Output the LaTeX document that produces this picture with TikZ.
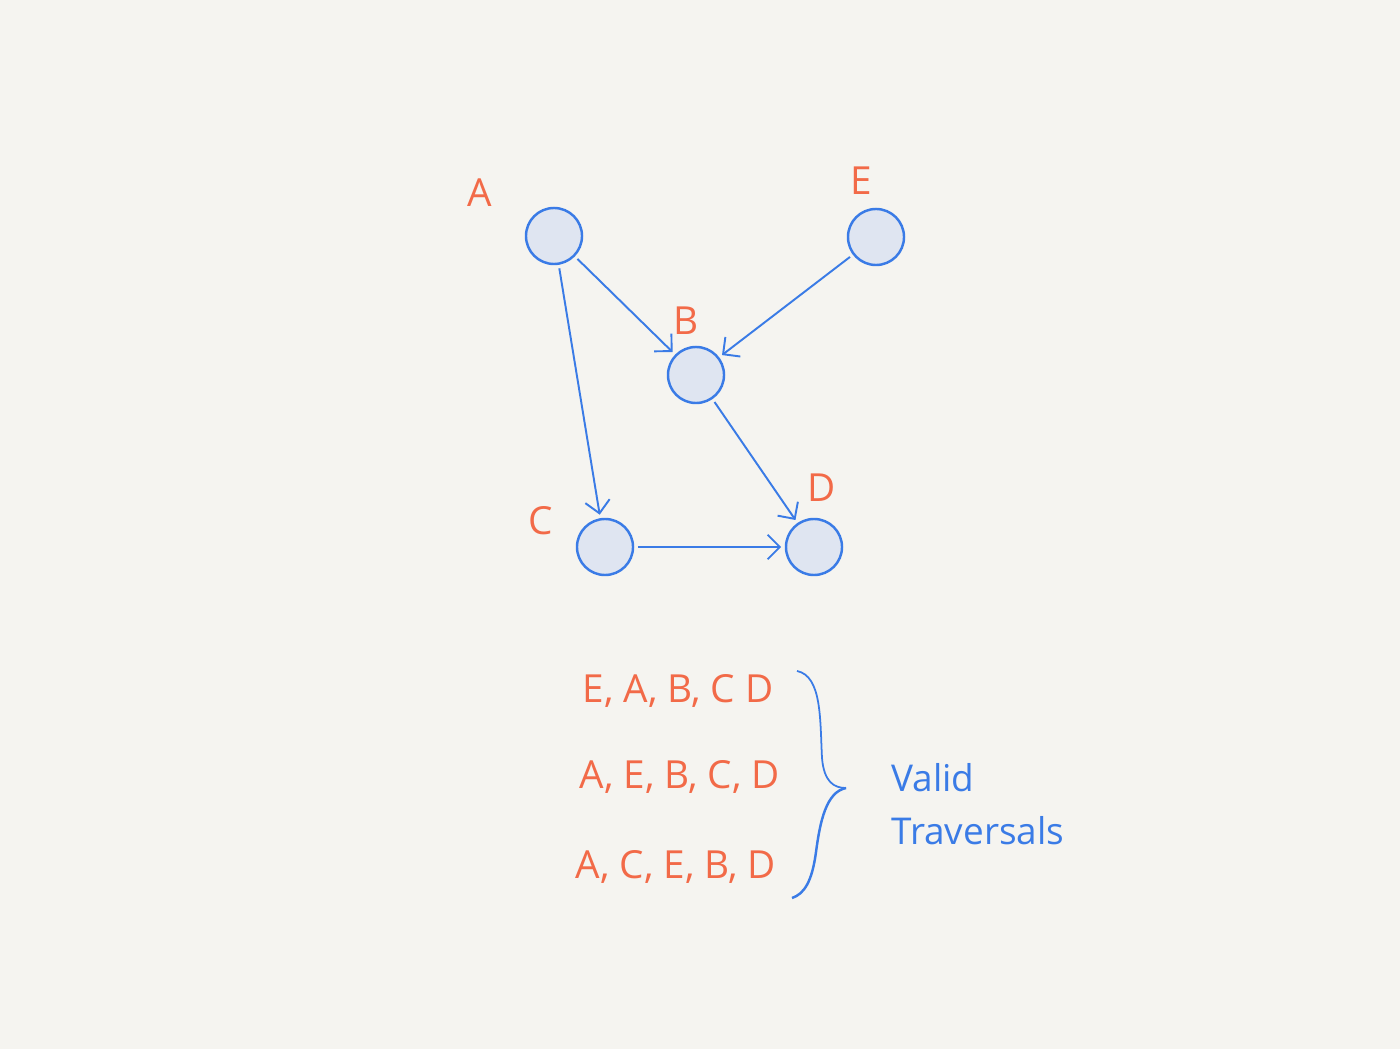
\documentclass[tikz,border=0pt]{standalone}
\usepackage{fontspec}
\setmainfont{Open Sans}
\usetikzlibrary{arrows.meta}

\definecolor{paper}{HTML}{F5F4F0}
\definecolor{inkblue}{HTML}{3A7BE6}
\definecolor{nodefill}{HTML}{DFE5F1}
\definecolor{inkred}{HTML}{F26A48}

\begin{document}
\begin{tikzpicture}[x=0.01cm,y=-0.01cm,->,>={Straight Barb[length=3.5pt,width=7pt]},
  shorten >=1pt,shorten <=1pt,
  main node/.style={circle,fill=nodefill,draw=inkblue,line width=0.7pt,minimum size=0.56cm,inner sep=0pt},
  name label/.style={text=inkred,font=\fontsize{11}{13}\selectfont},
  order/.style={text=inkred,font=\fontsize{11}{13}\selectfont},
  note/.style={text=inkblue,font=\fontsize{10.5}{15}\selectfont,align=left}]

  \fill[paper] (0,0) rectangle (1400,1049);
  \useasboundingbox (0,0) rectangle (1400,1049);

  \node[main node] (A) at (554,236) {};
  \node[main node] (E) at (876,237) {};
  \node[main node] (B) at (696,375) {};
  \node[main node] (C) at (605,547) {};
  \node[main node] (D) at (814,547) {};

  \node[name label] (la) at (480,193) {A};
  \node[name label] (le) at (861,181) {E};
  \node[name label] (lb) at (686,321) {B};
  \node[name label] (lc) at (541,521) {C};
  \node[name label] (ld) at (822,488) {D};

  \path[draw=inkblue,line width=0.55pt]
    (A) edge (B)
    (A) edge (C)
    (E) edge (B)
    (B) edge (D)
    (C) edge (D);

  % possible orders
  \node[order] (t1) at (678,691) {E, A, B, C D};
  \node[order] (t2) at (680,777) {A, E, B, C, D};
  \node[order] (t3) at (676,867) {A, C, E, B, D};

  % brace
  \draw[-,draw=inkblue,line width=0.5pt,shorten <=0pt,shorten >=0pt]
    (797,671) .. controls (822,676) and (820,720) .. (822,758)
    .. controls (824,782) and (834,788) .. (846,788);
  \draw[-,draw=inkblue,line width=0.7pt,shorten <=0pt,shorten >=0pt]
    (846,788) .. controls (826,792) and (820,822) .. (816,852)
    .. controls (812,882) and (804,894) .. (792,898);

  \node[note,anchor=west] (valid) at (879,804) {Valid\\Traversals};
\end{tikzpicture}
\end{document}
